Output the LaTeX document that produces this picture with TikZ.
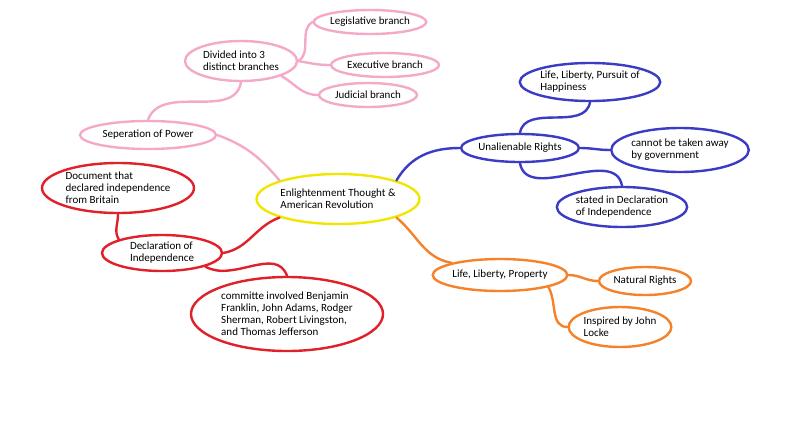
\documentclass[tikz,border=0pt]{standalone}
\usepackage{fontspec}
\setmainfont{Carlito}
\usetikzlibrary{shapes.geometric}
\definecolor{pk}{HTML}{F4A9C9}
\definecolor{bl}{HTML}{3B3BC4}
\definecolor{orr}{HTML}{F5822A}
\definecolor{rd}{HTML}{E0202A}
\definecolor{yl}{HTML}{F2E600}
\begin{document}
\begin{tikzpicture}[x=1pt,y=-1pt,
  bub/.style={ellipse,draw,line width=2.4pt,inner sep=0pt,font=\fontsize{11}{12}\selectfont,align=left},
  ln/.style={line width=2.4pt,line cap=round}]
\useasboundingbox (0,0) rectangle (799,426);
\node[bub,draw=yl,minimum width=152,minimum height=50] (c) at (338,199) {Enlightenment Thought \&\\American Revolution};
\node[bub,draw=pk,minimum width=136,minimum height=28] (sp) at (148,135) {Seperation of Power};
\node[bub,draw=pk,minimum width=112,minimum height=40] (dv) at (241,61) {Divided into 3\\distinct branches};
\node[bub,draw=pk,minimum width=108,minimum height=24] (lg) at (370,22) {Legislative branch};
\node[bub,draw=pk,minimum width=108,minimum height=24] (ex) at (385,65) {Executive branch};
\node[bub,draw=pk,minimum width=98,minimum height=24] (jd) at (368,95) {Judicial branch};
\node[bub,draw=bl,minimum width=112,minimum height=28] (ur) at (520,148) {Unalienable Rights};
\node[bub,draw=bl,minimum width=132,minimum height=38] (lp) at (590,82) {Life, Liberty, Pursuit of\\Happiness};
\node[bub,draw=bl,minimum width=124,minimum height=44] (ct) at (680,150) {cannot be taken away\\by government};
\node[bub,draw=bl,minimum width=126,minimum height=40] (st) at (622,207) {stated in Declaration\\of Independence};
\node[bub,draw=orr,minimum width=126,minimum height=32] (ll) at (500,275) {Life, Liberty, Property};
\node[bub,draw=orr,minimum width=92,minimum height=28] (nr) at (645,281) {Natural Rights};
\node[bub,draw=orr,minimum width=96,minimum height=40] (il) at (620,327) {Inspired by John\\Locke};
\node[bub,draw=rd,minimum width=152,minimum height=50] (dc) at (118,188) {Document that\\declared independence\\from Britain};
\node[bub,draw=rd,minimum width=120,minimum height=36] (di) at (162,253) {Declaration of\\Independence};
\node[bub,draw=rd,minimum width=192,minimum height=74] (cm) at (287,314) {committe involved Benjamin\\Franklin, John Adams, Rodger\\Sherman, Robert Livingston,\\and Thomas Jefferson};
\draw[ln,pk] (c.north west) to[out=130,in=-20] (sp.east);
\draw[ln,pk] (sp.north) to[out=70,in=-100] (dv.south);
\draw[ln,pk] (dv.east) to[out=30,in=-150] (lg.west);
\draw[ln,pk] (dv.east) to[out=-10,in=180] (ex.west);
\draw[ln,pk] (dv.south east) to[out=-30,in=180] (jd.west);
\draw[ln,bl] (c.north east) to[out=60,in=180] (ur.west);
\draw[ln,bl] (ur.north) to[out=80,in=-100] (lp.south);
\draw[ln,bl] (ur.east) to[out=0,in=180] (ct.west);
\draw[ln,bl] (ur.south) to[out=-80,in=100] (st.north);
\draw[ln,orr] (c.south east) to[out=-40,in=170] (ll.north west);
\draw[ln,orr] (ll.east) to[out=0,in=180] (nr.west);
\draw[ln,orr] (ll.south east) to[out=-60,in=180] (il.west);
\draw[ln,rd] (c.south west) to[out=200,in=10] (di.east);
\draw[ln,rd] (di.north west) to[out=120,in=-90] (dc.south);
\draw[ln,rd] (di.south east) to[out=-30,in=110] (cm.north);
\end{tikzpicture}
\end{document}
